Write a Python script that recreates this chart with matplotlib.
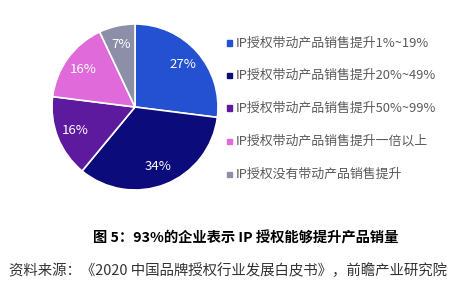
import matplotlib.pyplot as plt

plt.rcParams['font.family'] = ['Noto Sans CJK SC', 'DejaVu Sans']

# Data
categories = [
    "IP授权带动产品销售提升1%~19%",
    "IP授权带动产品销售提升20%~49%",
    "IP授权带动产品销售提升50%~99%",
    "IP授权带动产品销售提升一倍以上",
    "IP授权没有带动产品销售提升",
]
shares = [27, 34, 16, 16, 7]
colors = ['#2451d1', '#0b0b7c', '#5d1a9f', '#e06ad9', '#8d8fa8']

title = "图 5：93%的企业表示 IP 授权能够提升产品销量"
source = "资料来源：《2020 中国品牌授权行业发展白皮书》，前瞻产业研究院"

W, H = 455, 291
fig = plt.figure(figsize=(W / 100, H / 100), dpi=100)

# Pie
cx, cy, r = 135, 107, 83
ax = fig.add_axes([(cx - r) / W, (H - cy - r) / H, 2 * r / W, 2 * r / H])
ax.pie(shares, colors=colors, startangle=90, counterclock=False,
       autopct='%d%%', pctdistance=0.77,
       wedgeprops=dict(edgecolor='white', linewidth=1.2),
       textprops=dict(color='white', fontsize=9.5))
ax.set_xlim(-1, 1)
ax.set_ylim(-1, 1)
ax.set_aspect('equal')

# Legend
rows_y = [43, 75, 108, 141, 174]
for name, col, y in zip(categories, colors, rows_y):
    fig.patches.append(plt.Rectangle((227 / W, (H - y - 2.5) / H), 5 / W, 5 / H,
                                     transform=fig.transFigure, color=col))
    fig.text(236 / W, (H - y) / H, name, fontsize=9.3, color='#5a5a5a',
             va='center', ha='left')

# Caption
fig.text(246 / W, (H - 238) / H, title, fontsize=10.3, fontweight='bold',
         color='black', ha='center', va='center')
fig.text(9 / W, (H - 271) / H, source, fontsize=10.4, style='italic',
         color='#333333', ha='left', va='center')

plt.savefig('out.png', dpi=100)
